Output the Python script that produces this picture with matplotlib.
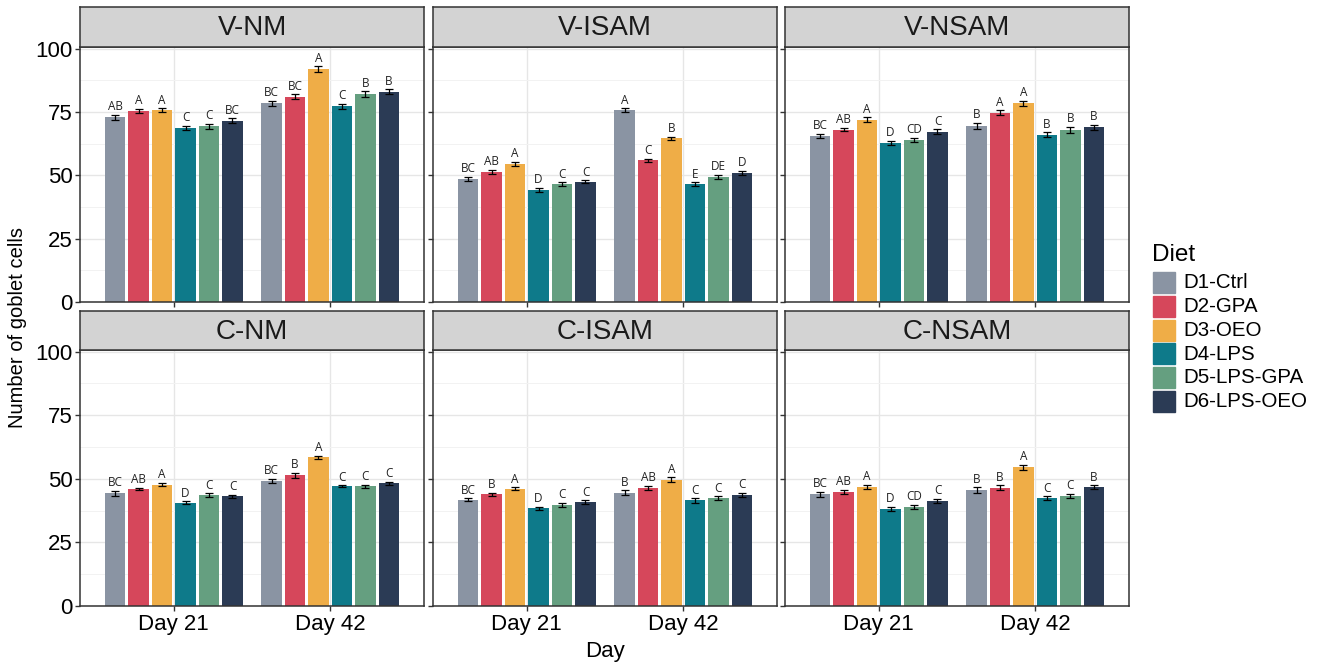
import numpy as np
import matplotlib.pyplot as plt

plt.rcParams['font.family'] = ['Liberation Sans', 'DejaVu Sans']

W, H = 1320, 671

diets = ["D1-Ctrl", "D2-GPA", "D3-OEO", "D4-LPS", "D5-LPS-GPA", "D6-LPS-OEO"]
colors = ["#8a94a3", "#d6475b", "#efad47", "#0e7a8a", "#659f80", "#2b3b55"]
days = ["Day 21", "Day 42"]
panels = ["V-NM", "V-ISAM", "V-NSAM", "C-NM", "C-ISAM", "C-NSAM"]

# means per panel: [day21 (D1..D6), day42 (D1..D6)]
means = {
    "V-NM":   [[72.8, 75.3, 75.7, 68.6, 69.3, 71.6], [78.4, 81.0, 91.9, 77.2, 81.9, 82.9]],
    "V-ISAM": [[48.7, 51.3, 54.6, 44.1, 46.5, 47.4], [75.8, 55.9, 64.6, 46.4, 49.3, 51.0]],
    "V-NSAM": [[65.5, 68.0, 71.9, 62.9, 63.9, 67.1], [69.5, 74.7, 78.4, 65.9, 68.0, 68.9]],
    "C-NM":   [[44.3, 46.0, 47.7, 40.6, 43.5, 43.2], [49.3, 51.3, 58.5, 47.1, 47.1, 48.2]],
    "C-ISAM": [[41.7, 43.9, 46.0, 38.5, 39.8, 40.9], [44.5, 46.4, 49.7, 41.5, 42.4, 43.6]],
    "C-NSAM": [[43.9, 44.9, 46.9, 38.2, 38.9, 41.3], [45.6, 46.4, 54.6, 42.4, 43.2, 46.7]],
}
errs = {
    "V-NM":   [[1.1, 0.9, 0.8, 0.9, 1.0, 0.9], [1.0, 0.9, 1.1, 1.1, 1.2, 1.0]],
    "V-ISAM": [[0.8, 0.8, 0.8, 0.9, 0.8, 0.6], [0.7, 0.7, 0.6, 0.8, 0.9, 0.7]],
    "V-NSAM": [[0.8, 0.7, 0.9, 0.8, 0.9, 1.0], [1.2, 1.0, 0.9, 1.0, 1.2, 1.1]],
    "C-NM":   [[0.9, 0.4, 0.7, 0.6, 0.8, 0.6], [0.8, 1.0, 0.6, 0.3, 0.6, 0.7]],
    "C-ISAM": [[0.6, 0.6, 0.6, 0.6, 0.7, 0.7], [0.9, 0.8, 0.9, 0.9, 0.7, 0.8]],
    "C-NSAM": [[1.0, 0.8, 0.8, 0.8, 0.8, 0.9], [1.0, 1.0, 1.0, 0.8, 0.9, 0.8]],
}
letters = {
    "V-NM":   [["AB", "A", "A", "C", "C", "BC"], ["BC", "BC", "A", "C", "B", "B"]],
    "V-ISAM": [["BC", "AB", "A", "D", "C", "C"], ["A", "C", "B", "E", "DE", "D"]],
    "V-NSAM": [["BC", "AB", "A", "D", "CD", "C"], ["B", "A", "A", "B", "B", "B"]],
    "C-NM":   [["BC", "AB", "A", "D", "C", "C"], ["BC", "B", "A", "C", "C", "C"]],
    "C-ISAM": [["BC", "B", "A", "D", "C", "C"], ["B", "AB", "A", "C", "C", "C"]],
    "C-NSAM": [["BC", "AB", "A", "D", "CD", "C"], ["B", "B", "A", "C", "C", "B"]],
}

fig = plt.figure(figsize=(W / 100, H / 100), dpi=100)


def px_axes(x0, y0, x1, y1):
    # pixel box (top-left origin) -> figure axes
    return fig.add_axes([x0 / W, 1 - y1 / H, (x1 - x0) / W, (y1 - y0) / H])


cols = [(80, 424), (433, 777), (785, 1129)]
rows = [(7, 47, 302), (311, 350, 606)]
edge = "#333333"
dodge = 0.15
bw = 0.13

for i, name in enumerate(panels):
    r, c = divmod(i, 3)
    x0, x1 = cols[c]
    st, pt, pb = rows[r]
    ax = px_axes(x0, pt, x1, pb)
    ax.set_xlim(0.4, 2.6)
    ax.set_ylim(0, 100.6)
    ax.set_yticks([0, 25, 50, 75, 100])
    ax.set_yticks([12.5, 37.5, 62.5, 87.5], minor=True)
    ax.set_xticks([1, 2])
    ax.grid(True, which='major', color="#e6e6e6", lw=1.0)
    ax.grid(True, which='minor', axis='y', color="#f2f2f2", lw=0.7)
    ax.set_axisbelow(True)
    for d in range(2):
        for k in range(6):
            xc = d + 1 + (k - 2.5) * dodge
            m = means[name][d][k]
            e = errs[name][d][k]
            ax.bar(xc, m, width=bw, color=colors[k], zorder=2)
            ax.errorbar(xc, m, yerr=e, color="black", lw=0.9, capsize=3,
                        capthick=0.9, zorder=3)
            ax.text(xc, m + e + 0.6, letters[name][d][k], ha='center', va='bottom',
                    fontsize=8.5, color="#222222", zorder=4,
                    family=['Open Sans', 'DejaVu Sans'])
    for s in ax.spines.values():
        s.set_color(edge)
        s.set_linewidth(1.1)
    ax.tick_params(axis='both', which='major', length=3.5, width=1, color=edge,
                   labelsize=16, labelcolor="black", pad=2)
    ax.tick_params(axis='both', which='minor', length=0)
    if c == 0:
        ax.set_yticklabels(["0", "25", "50", "75", "100"])
    else:
        ax.set_yticklabels([])
    if r == 1:
        ax.set_xticklabels(days)
    else:
        ax.set_xticklabels([])
    # strip
    sx = px_axes(x0, st, x1, pt)
    sx.set_facecolor("#d3d3d3")
    sx.set_xticks([])
    sx.set_yticks([])
    for s in sx.spines.values():
        s.set_color(edge)
        s.set_linewidth(1.1)
    sx.text(0.5, 0.47, name, ha='center', va='center', fontsize=20,
            color="#1a1a1a", transform=sx.transAxes)

fig.text(605 / W, 1 - 651 / H, "Day", ha='center', va='center', fontsize=16)
fig.text(18 / W, 1 - 328 / H, "Number of goblet cells", ha='center', va='center',
         rotation=90, fontsize=14.5)

# legend
fig.text(1152 / W, 1 - 255 / H, "Diet", ha='left', va='center', fontsize=17.5)
for k, lab in enumerate(diets):
    yc = 282.3 + k * 23.9
    fig.patches.append(plt.Rectangle((1153 / W, 1 - (yc + 10.5) / H), 22 / W, 21 / H,
                                     transform=fig.transFigure, color=colors[k]))
    fig.text(1183 / W, 1 - yc / H, lab, ha='left', va='center', fontsize=14.8)

fig.savefig("out.png", dpi=100)
